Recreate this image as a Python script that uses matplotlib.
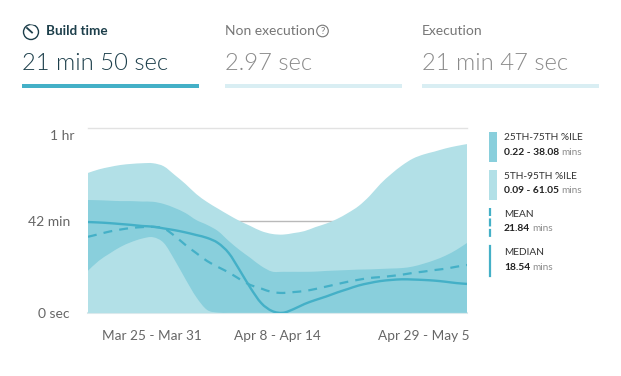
"""Build time summary: header stats and a percentile band chart."""

import matplotlib

matplotlib.use("Agg")
import matplotlib.pyplot as plt
import numpy as np
from matplotlib import font_manager
from matplotlib.patches import Circle, PathPatch, Rectangle
from matplotlib.path import Path

plt.rcParams["font.family"] = ["Lato", "DejaVu Sans"]

# one reading per day, starting Mar 25, values in minutes on the chart's scale
days = list(range(36))
p95 = [63.6, 65.2, 66.3, 67.2, 67.7, 68.0, 68.0, 66.6, 62.7, 58.6, 54.0, 50.4,
       47.4, 44.5, 41.8, 39.5, 37.2, 35.9, 35.6, 36.3, 37.2, 39.0, 40.6, 42.7,
       45.4, 48.6, 53.1, 58.6, 63.1, 67.0, 70.1, 72.0, 73.3, 74.7, 75.8, 76.7]
p75 = [51.3, 51.2, 51.0, 50.8, 50.8, 50.6, 50.5, 49.5, 47.7, 45.4, 42.2, 40.0,
       37.2, 32.7, 28.6, 25.0, 21.3, 18.8, 18.7, 18.7, 18.7, 18.8, 19.1, 19.3,
       19.5, 19.7, 19.8, 20.0, 20.2, 20.4, 21.1, 22.4, 24.0, 26.0, 28.6, 31.8]
p25 = [19.2, 23.7, 27.0, 30.0, 32.2, 33.8, 34.4, 31.8, 24.1, 15.4, 7.2, 1.4,
       0.2, 0.1, 0.1, 0.1, 0.1, 0.1, 0.1, 0.1, 0.1, 0.1, 0.1, 0.1,
       0.1, 0.1, 0.1, 0.1, 0.1, 0.1, 0.1, 0.1, 0.1, 0.1, 0.1, 0.1]
p5 = [0.0] * 36
mean = [34.6, 35.8, 37.0, 37.9, 38.6, 39.0, 39.1, 38.4, 35.0, 30.9, 27.2, 23.6,
        20.9, 18.4, 15.4, 12.7, 11.1, 9.5, 9.1, 9.5, 10.0, 10.9, 12.0, 13.1,
        14.2, 15.1, 15.9, 16.3, 16.8, 17.4, 18.2, 18.8, 19.5, 20.1, 21.0, 21.8]
median = [41.3, 41.1, 40.8, 40.4, 40.0, 39.5, 39.2, 38.4, 37.6, 36.6, 35.4, 34.1,
          31.8, 27.2, 19.5, 11.4, 4.5, 0.9, 0.1, 1.8, 4.1, 5.9, 7.5, 9.3,
          10.9, 12.5, 13.6, 14.5, 15.0, 15.3, 15.2, 15.0, 14.7, 14.2, 13.6, 13.2]

y_ticks = [0, 42, 84]
y_labels = ["0 sec", "42 min", "1 hr"]
x_ticks = [5.87, 17.5, 31.05]
x_labels = ["Mar 25 - Mar 31", "Apr 8 - Apr 14", "Apr 29 - May 5"]

header_titles = ["Build time", "Non execution", "Execution"]
header_values = ["21 min 50 sec", "2.97 sec", "21 min 47 sec"]
legend_titles = ["25TH-75TH %ILE", "5TH-95TH %ILE", "MEAN", "MEDIAN"]
legend_values = ["0.22 - 38.08", "0.09 - 61.05", "21.84", "18.54"]

TEAL = "#44b0c7"
PALE = "#d9eef3"
LIGHT = "#b2e0e7"
DARK = "#89cfdc"
INK = "#1d3f4b"
GREY = "#767676"


def light_font():
    """Return Lato Light by file name, since weight matching lands on Hairline."""
    for entry in font_manager.fontManager.ttflist:
        stem = entry.fname.rsplit("/", 1)[-1]
        if stem == "Lato-Light.ttf":
            return font_manager.FontProperties(fname=entry.fname)
    return font_manager.FontProperties(family="Lato", weight="normal")


def smooth_path(xs, ys):
    """Return vertices and codes of a Catmull-Rom curve through the readings."""
    pts = np.column_stack([xs, ys])
    prev_pts = np.vstack([pts[0], pts[:-1]])
    next_pts = np.vstack([pts[1:], pts[-1]])
    tangents = (next_pts - prev_pts) / 6
    verts = [pts[0]]
    for i in range(len(pts) - 1):
        verts += [pts[i] + tangents[i], pts[i + 1] - tangents[i + 1], pts[i + 1]]
    codes = [Path.MOVETO] + [Path.CURVE4] * (len(verts) - 1)
    return np.array(verts), codes


def smooth_band(axes, xs, low, high, color, zorder):
    top_v, top_c = smooth_path(xs, high)
    low_v, low_c = smooth_path(xs[::-1], low[::-1])
    low_c[0] = Path.LINETO
    path = Path(np.vstack([top_v, low_v, top_v[:1]]),
                top_c + low_c + [Path.CLOSEPOLY])
    axes.add_patch(PathPatch(path, fc=color, lw=0, zorder=zorder))


def smooth_line(axes, xs, ys, zorder, **style):
    verts, codes = smooth_path(xs, ys)
    axes.add_patch(PathPatch(Path(verts, codes), fill=False, ec=TEAL,
                             capstyle="butt", zorder=zorder, **style))


W, H = 621, 376
fig = plt.figure(figsize=(W / 100, H / 100), dpi=100)

# overlay in pixel coordinates for the header and the legend
page = fig.add_axes([0, 0, 1, 1], zorder=3)
page.set_xlim(0, W)
page.set_ylim(H, 0)
page.axis("off")

# chart
ax = fig.add_axes([88 / W, 1 - 313 / H, 379 / W, 185 / H])
ax.set_xlim(0, 35)
ax.set_ylim(0, 84)
for spine in ax.spines.values():
    spine.set_visible(False)
ax.patch.set_alpha(0)
ax.axhline(84, color="#e2e2e2", lw=1, zorder=1, clip_on=False)
ax.axhline(42, color="#b9b9b9", lw=1, zorder=1)
ax.axhline(0, color="#dbe9ec", lw=1.5, zorder=1, clip_on=False)
smooth_band(ax, days, p5, p95, LIGHT, 2)
smooth_band(ax, days, p25, p75, DARK, 3)
smooth_line(ax, days, mean, 4, lw=1.6, linestyle=(0, (4, 3.2)))
smooth_line(ax, days, median, 5, lw=1.7)

ax.set_xticks(x_ticks, x_labels)
ax.set_yticks(y_ticks[:2], y_labels[:2])
ax.tick_params(axis="both", length=0, labelsize=10, labelcolor="#666666")
ax.tick_params(axis="x", labelsize=9.8, pad=12)
ax.tick_params(axis="y", pad=13)
page.text(74, 136, y_labels[2], ha="right", va="center", fontsize=10, color="#666666")

# header
value_font = light_font()
value_font.set_size(17.1)
for x0, title, value, active in zip((22, 225, 422), header_titles, header_values, (True, False, False)):
    page.add_patch(Rectangle((x0, 84), 177, 4, color=TEAL if active else PALE, lw=0))
    page.text(x0 + 24 if active else x0, 31, title, va="center",
              fontsize=9.7 if active else 10, fontweight="bold" if active else "normal",
              color=INK if active else GREY)
    page.text(x0, 64, value, va="center", fontproperties=value_font,
              color=INK if active else "#8a8a8a")

# stopwatch icon
page.add_patch(Circle((31, 32), 7.5, fill=False, ec=INK, lw=1))
page.plot([27, 32], [28, 32.5], color=INK, lw=1.3)
page.plot([31, 35], [23, 23.5], color="white", lw=2)
# help icon
page.add_patch(Circle((322.5, 31), 5.8, fill=False, ec=GREY, lw=0.8))
page.text(322.5, 31, "?", ha="center", va="center", fontsize=7, color=GREY)

# legend
page.add_patch(Rectangle((489, 132), 8, 30, color=DARK, lw=0))
page.add_patch(Rectangle((489, 170), 8, 30, color=LIGHT, lw=0))
page.plot([490, 490], [208, 238], color=TEAL, lw=1.6, dashes=(3.6, 1.1))
page.plot([490, 490], [246, 276], color=TEAL, lw=1.6)

fig.canvas.draw()
renderer = fig.canvas.get_renderer()
for row, (title, value) in enumerate(zip(legend_titles, legend_values)):
    y = 138 + row * 38.1
    page.text(504, y, title, va="center", fontsize=7.3, color="#333333")
    bold = page.text(504, y + 14.7, value, va="center", fontsize=7.4,
                     fontweight="bold", color="#222222")
    end = bold.get_window_extent(renderer).x1
    page.text(end + 2, y + 14.7, "mins", va="center", fontsize=7.2, color="#8c8c8c")

fig.savefig("out.png", dpi=100)
